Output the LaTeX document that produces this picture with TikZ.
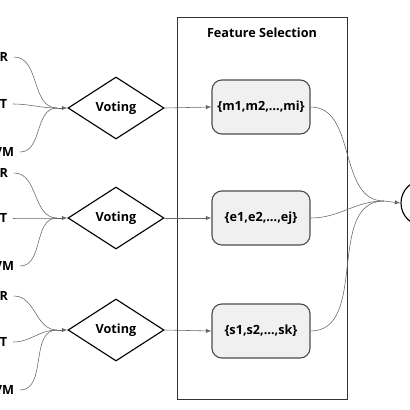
\documentclass[tikz,border=0pt]{standalone}
\usepackage{fontspec}
\setmainfont{Open Sans}
\usetikzlibrary{shapes.geometric,arrows}

\tikzset{
  vote/.style={diamond, draw=black, thick, aspect=1.55, minimum width=2.4cm, minimum height=1.55cm, inner sep=0pt, font=\bfseries\small},
  featset/.style={rounded corners=7pt, draw=black!70, thick, fill=gray!12, minimum width=2.45cm, minimum height=1.35cm, font=\bfseries\small},
  clf/.style={anchor=east, font=\bfseries\small, inner xsep=4pt, inner ysep=2pt},
  wire/.style={draw=black!60, thin},
  arr/.style={wire, -latex}
}

\begin{document}
\begin{tikzpicture}[x=0.025cm, y=-0.025cm]
    \useasboundingbox (0,0) rectangle (410,410);

    % feature selection frame
    \node[draw=black!80, thick, minimum width=4.25cm, minimum height=9.55cm, anchor=north west] (frame) at (177,17) {};
    \node[font=\bfseries\small] (title) at (262,33) {Feature Selection};

    % first group
    \node[clf] (lr1) at (14,57) {LR};
    \node[clf] (dt1) at (13,104) {DT};
    \node[clf] (svm1) at (20,152) {SVM};
    \coordinate (m1) at (57,108);
    \node[vote] (v1) at (116,108) {Voting};
    \node[featset] (f1) at (261,107) {\{m1,m2,…,mi\}};

    % second group
    \node[clf] (lr2) at (14,173) {LR};
    \node[clf] (dt2) at (13,218) {DT};
    \node[clf] (svm2) at (20,266) {SVM};
    \coordinate (m2) at (57,218);
    \node[vote] (v2) at (116,218) {Voting};
    \node[featset] (f2) at (261,218) {\{e1,e2,…,ej\}};

    % third group
    \node[clf] (lr3) at (14,296) {LR};
    \node[clf] (dt3) at (13,342) {DT};
    \node[clf] (svm3) at (20,390) {SVM};
    \coordinate (m3) at (57,330);
    \node[vote] (v3) at (116,330) {Voting};
    \node[featset] (f3) at (261,331) {\{s1,s2,…,sk\}};

    % fusion
    \coordinate (mf) at (384,201);
    \node[circle, draw=black, thick, minimum size=1.15cm] (fuse) at (424,203) {};

    \draw[wire] (lr1.east) to[out=0,in=180] (m1);
    \draw[wire] (dt1.east) to[out=0,in=180] (m1);
    \draw[wire] (svm1.east) to[out=0,in=180] (m1);
    \draw[wire] (lr2.east) to[out=0,in=180] (m2);
    \draw[wire] (dt2.east) to[out=0,in=180] (m2);
    \draw[wire] (svm2.east) to[out=0,in=180] (m2);
    \draw[wire] (lr3.east) to[out=0,in=180] (m3);
    \draw[wire] (dt3.east) to[out=0,in=180] (m3);
    \draw[wire] (svm3.east) to[out=0,in=180] (m3);

    \draw[arr] (m1) -- (v1.west);
    \draw[arr] (m2) -- (v2.west);
    \draw[arr] (m3) -- (v3.west);

    \draw[arr] (v1.east) -- (f1.west);
    \draw[arr] (v2.east) -- (f2.west);
    \draw[arr] (v3.east) -- (f3.west);

    \draw[wire] (f1.east) to[out=0,in=180] (mf);
    \draw[wire] (f2.east) to[out=0,in=180] (mf);
    \draw[wire] (f3.east) to[out=0,in=180] (mf);
    \draw[arr] (mf) -- (fuse.west);
\end{tikzpicture}
\end{document}
